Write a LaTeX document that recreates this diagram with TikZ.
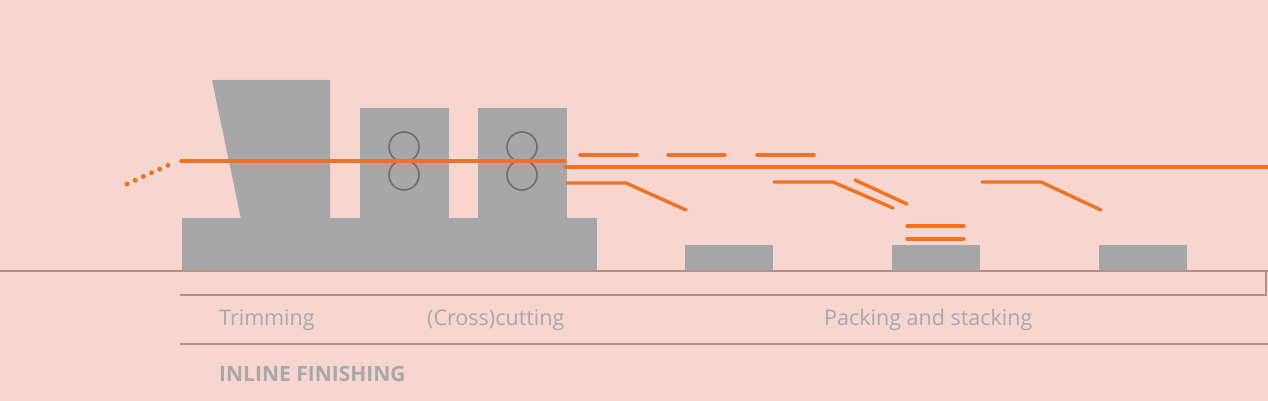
\documentclass[tikz,border=0pt]{standalone}
\usepackage{fontspec}
\setmainfont{Open Sans}
\definecolor{bg}{HTML}{F7D6CF}
\definecolor{mach}{HTML}{A6A7A6}
\definecolor{org}{HTML}{EF7322}
\definecolor{rule}{HTML}{B59089}
\definecolor{txt}{HTML}{A8A8A8}
\definecolor{roll}{HTML}{6E6E72}
\tikzset{
 web/.style={org,line width=3.4pt,line cap=round},
 machine/.style={fill=mach,draw=none},
 roller/.style={draw=roll,line width=1.6pt},
 lab/.style={anchor=west,text=txt,font=\fontsize{21.5}{24}\selectfont,inner sep=0pt},
 rl/.style={rule,line width=2pt}
}
\begin{document}
\begin{tikzpicture}[x=1pt,y=-1pt]
\fill[bg] (0,0) rectangle (1268,401);
\useasboundingbox (0,0) rectangle (1268,401);
% machines
\fill[machine] (182,218) rectangle (597,271);
\fill[machine] (212,80) -- (330,80) -- (330,219) -- (241,219) -- cycle;
\fill[machine] (360,108) rectangle (449,219);
\fill[machine] (478,108) rectangle (567,219);
\fill[machine] (685,245) rectangle (773,271);
\fill[machine] (892,245) rectangle (980,271);
\fill[machine] (1099,245) rectangle (1187,271);
% rollers
\foreach \x in {404,522}{
 \draw[roller] (\x,147) circle (15);
 \draw[roller] (\x,175) circle (15);
}
% rules
\draw[rl] (0,271) -- (1268,271);
\draw[rl] (180,295) -- (1266,295) -- (1266,271);
\draw[rl] (180,344) -- (1268,344);
% web
\draw[org,line width=5pt,line cap=round,dash pattern=on 0pt off 9pt] (127,184) -- (173,163);
\draw[web] (181,161) -- (565,161);
\draw[web] (565,167) -- (1268,167);
\foreach \a in {580,668,757}{\draw[web] (\a,155) -- ++(57,0);}
\draw[web] (567,183) -- (626,183) -- (686,210);
\draw[web] (774,182) -- (833,182) -- (893,208);
\draw[web] (855,180) -- (907,204);
\draw[web] (907,226) -- (964,226);
\draw[web] (907,239) -- (964,239);
\draw[web] (982,182) -- (1041,182) -- (1101,210);
% labels
\node[lab] (t1) at (219,320) {Trimming};
\node[lab] (t2) at (427,320) {(Cross)cutting};
\node[lab] (t3) at (824,320) {Packing and stacking};
\node[lab,font=\fontsize{21}{24}\selectfont\bfseries] (t4) at (219,374) {INLINE FINISHING};
\end{tikzpicture}
\end{document}
